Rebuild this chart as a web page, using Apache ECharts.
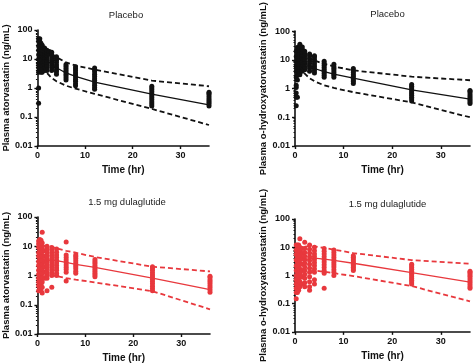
<!DOCTYPE html>
<html><head><meta charset="utf-8">
<script src="https://cdn.jsdelivr.net/npm/echarts@6/dist/echarts.min.js"></script>
<style>html,body{margin:0;padding:0;background:#fff}#c{width:474px;height:364px}</style>
</head><body><div id="c"></div>
<script>
// ---- data ----
const panelTitles = ['Placebo', 'Placebo', '1.5 mg dulaglutide', '1.5 mg dulaglutide'];
const yNames = ['Plasma atorvastatin (ng/mL)', 'Plasma o-hydroxyatorvastatin (ng/mL)', 'Plasma atorvastatin (ng/mL)', 'Plasma o-hydroxyatorvastatin (ng/mL)'];
const xTickValues = [0, 10, 20, 30];
const yMinorTicks = [0.02,0.03,0.04,0.05,0.06,0.07,0.08,0.09,0.2,0.3,0.4,0.5,0.6,0.7,0.8,0.9,2,3,4,5,6,7,8,9,20,30,40,50,60,70,80,90];

const obsTimes = [0.25, 0.5, 0.75, 1, 1.5, 2, 2.5, 3, 4, 6, 8, 12, 24, 36];

const atoPlaceboObs = [
  [0.3, 1.0, 3.5, 5, 7, 10, 14, 20, 28, 40, 50],
  [4, 5, 6.5, 8, 10, 13, 17, 22, 30, 40, 50],
  [3.5, 5, 7, 9, 12, 15, 20, 27, 35],
  [3.5, 4.5, 6, 8, 10, 13, 16, 20, 25, 30],
  [4, 5, 6.5, 8.5, 11, 14, 18, 24],
  [4, 5, 6, 7.5, 9, 11, 13.5, 16, 20],
  [15, 18],
  [4, 5, 6, 7, 8.5, 10, 12, 14, 17],
  [3, 3.6, 4.3, 5.2, 6.2, 7.5, 9, 10.5, 12],
  [1.9, 2.2, 2.6, 3, 3.5, 4.1, 4.8, 5.6, 6.5],
  [1.2, 1.4, 1.7, 2, 2.4, 2.8, 3.3, 3.9, 4.6, 5.4],
  [0.9, 1.05, 1.25, 1.5, 1.8, 2.1, 2.5, 3, 3.6, 4.3, 4.9],
  [0.24, 0.28, 0.33, 0.39, 0.46, 0.54, 0.63, 0.74, 0.87, 1.0, 1.15],
  [0.24, 0.28, 0.32, 0.37, 0.43, 0.5, 0.58, 0.66, 0.72]
];
const ohPlaceboObs = [
  [0.25, 0.5, 0.7, 1.1, 1.3, 2.5, 4, 6, 9, 13, 20],
  [0.5, 2, 3, 4.5, 6, 8, 11, 15, 20, 27],
  [3, 4, 5.5, 7, 9.5, 12.5, 16, 21, 28],
  [3, 4, 5.5, 7.5, 10, 13, 17, 22, 28, 35],
  [4, 5, 6.5, 8.5, 11, 14, 18, 23, 28],
  [4.5, 5.5, 7, 8.5, 10.5, 13, 16, 20],
  [],
  [4, 5, 6, 7.5, 9, 11, 13.5, 16],
  [3.5, 4.2, 5, 6, 7.2, 8.6, 10.3, 12.5, 14],
  [2.5, 2.9, 3.4, 4, 4.7, 5.5, 6.5, 7.6, 9],
  [2.5, 2.9, 3.3, 3.8, 4.4, 5.1, 5.9, 7],
  [1.5, 1.75, 2, 2.3, 2.7, 3.1, 3.6, 4.2, 5],
  [0.37, 0.43, 0.5, 0.58, 0.67, 0.78, 0.9, 1.05, 1.2, 1.4],
  [0.3, 0.34, 0.39, 0.45, 0.52, 0.6, 0.7, 0.8, 0.85]
];
const atoDulaObs = [
  [0.3, 0.45, 0.6, 0.8, 1.1, 1.5, 2.2, 3, 4.5, 6, 9, 12, 15],
  [0.35, 0.5, 0.7, 0.9, 1.3, 1.8, 2.5, 3.5, 5, 7, 10, 14, 17],
  [0.3, 0.5, 0.75, 1, 1.4, 2, 2.8, 4, 5.5, 8, 11, 16],
  [0.25, 0.4, 0.6, 0.85, 1.2, 1.7, 2.4, 3.3, 4.6, 6.5, 9, 13, 30],
  [0.8, 1.3, 2, 3, 4.5, 7],
  [0.3, 0.8, 1, 1.3, 1.7, 2.2, 2.8, 3.6, 4.6, 6, 7.8, 10],
  [],
  [0.4, 1, 1.2, 1.5, 1.9, 2.4, 3, 3.8, 4.8, 6, 7.5, 9],
  [1, 1.2, 1.5, 1.8, 2.2, 2.7, 3.3, 4.1, 5, 6.2, 8],
  [0.65, 1.3, 1.6, 1.9, 2.3, 2.8, 3.4, 4.1, 5, 14],
  [1.2, 1.4, 1.7, 2, 2.3, 2.7, 3.2, 3.8, 4.5, 5],
  [0.9, 1.05, 1.2, 1.4, 1.65, 1.9, 2.2, 2.6, 3, 3.5],
  [0.3, 0.36, 0.43, 0.52, 0.62, 0.74, 0.88, 1.05, 1.25, 1.5, 1.8, 2],
  [0.27, 0.32, 0.38, 0.45, 0.53, 0.62, 0.72, 0.85, 0.95]
];
const ohDulaObs = [
  [0.15, 0.25, 0.35, 0.5, 0.7, 1, 1.5, 2.2, 3.5, 5.5, 8, 12],
  [0.25, 0.35, 0.5, 0.7, 1, 1.4, 2, 3, 4.5, 6.5, 9, 12],
  [0.3, 0.45, 0.65, 0.9, 1.3, 1.9, 2.7, 4, 6, 8.5, 12],
  [0.4, 0.6, 0.85, 1.2, 1.7, 2.5, 3.5, 5, 7, 10, 20],
  [0.5, 0.9, 1.5, 2.5, 4, 6, 9],
  [0.4, 0.55, 0.8, 1.1, 1.5, 2, 2.7, 3.6, 4.8, 6.5, 9, 15],
  [],
  [0.3, 0.4, 0.6, 0.9, 1.3, 1.8, 2.5, 3.4, 4.6, 6.2, 8.5, 12],
  [0.5, 0.7, 1.3, 1.7, 2.2, 2.8, 3.6, 4.6, 5.8, 7.5, 10],
  [0.35, 1.2, 1.5, 1.9, 2.4, 3, 3.7, 4.6, 5.8, 7.2, 9],
  [1, 1.3, 1.6, 2, 2.4, 2.9, 3.5, 4.3, 5.3, 6.5, 8],
  [1.5, 1.7, 1.95, 2.2, 2.5, 2.9, 3.3, 3.8, 4.4, 5],
  [0.5, 0.58, 0.67, 0.78, 0.9, 1.05, 1.2, 1.4, 1.65, 1.9, 2.2, 2.5],
  [0.35, 0.4, 0.47, 0.55, 0.64, 0.75, 0.88, 1, 1.15, 1.3, 1.4]
];

// prediction lines (median, 95th, 5th percentile)
const atoPlaceboPredT = [0.5, 1, 1.5, 2, 3, 4, 6, 8, 12, 24, 36];
const atoPlaceboMedian = [12, 13, 11, 9, 6.5, 5.0, 3.3, 2.5, 1.6, 0.62, 0.26];
const atoPlaceboUpper  = [35, 33, 28, 22, 15, 11.5, 7.6, 6, 4.3, 1.8, 1.15];
const atoPlaceboLower  = [10, 7, 4.5, 3.3, 2.2, 1.7, 1.2, 0.95, 0.63, 0.19, 0.053];

const ohPlaceboPredT = [1, 1.5, 2, 3, 4, 6, 8, 12, 24, 36];
const ohPlaceboMedian = [9, 8.5, 7.5, 6, 5, 3.9, 3.2, 2.3, 0.9, 0.43];
const ohPlaceboUpper  = [14, 14, 13, 11, 9.5, 7.2, 5.9, 4.3, 2.6, 1.95];
const ohPlaceboLower  = [6, 4.5, 3.3, 2.3, 1.8, 1.3, 1.05, 0.75, 0.33, 0.1];

const atoDulaPredT = [1, 2, 3, 4, 6, 8, 12, 24, 36];
const atoDulaMedian = [2.6, 3.2, 3.4, 3.2, 2.8, 2.4, 1.9, 0.82, 0.33];
const atoDulaUpper  = [10, 10.5, 9.5, 8.5, 7, 6, 4.3, 2.0, 1.38];
const atoDulaLower  = [0.9, 1.0, 1.0, 0.95, 0.82, 0.72, 0.58, 0.29, 0.07];

const ohDulaPredT = [0.5, 1, 1.5, 2, 3, 4, 6, 8, 12, 24, 36];
const ohDulaMedian = [1.2, 2, 2.8, 3.5, 4, 4.1, 3.8, 3.4, 2.7, 1.25, 0.58];
const ohDulaUpper  = [null, null, null, 10.5, 11, 10.7, 9.5, 8.2, 6.2, 3.5, 2.6];
const ohDulaLower  = [null, null, null, null, 1.4, 1.5, 1.35, 1.2, 0.95, 0.42, 0.12];

// ---- chart ----
const BLACK = '#111111';
const RED = '#e8383d';
const FONT = 'Liberation Sans, Arial, sans-serif';

const panels = [
  {obs: atoPlaceboObs, t: atoPlaceboPredT, med: atoPlaceboMedian, up: atoPlaceboUpper, lo: atoPlaceboLower, color: BLACK,
   grid: {left: 33, top: 30, width: 176, height: 116}},
  {obs: ohPlaceboObs, t: ohPlaceboPredT, med: ohPlaceboMedian, up: ohPlaceboUpper, lo: ohPlaceboLower, color: BLACK,
   grid: {left: 295, top: 29, width: 175, height: 117}},
  {obs: atoDulaObs, t: atoDulaPredT, med: atoDulaMedian, up: atoDulaUpper, lo: atoDulaLower, color: RED,
   grid: {left: 34, top: 217, width: 176, height: 118}},
  {obs: ohDulaObs, t: ohDulaPredT, med: ohDulaMedian, up: ohDulaUpper, lo: ohDulaLower, color: RED,
   grid: {left: 295, top: 219, width: 175, height: 116}}
];

const grids = [], xAxes = [], yAxes = [], series = [], titles = [];
panels.forEach((p, i) => {
  grids.push(Object.assign({containLabel: false}, p.grid));
  titles.push({
    text: panelTitles[i], left: p.grid.left + p.grid.width / 2, top: p.grid.top - 25, textAlign: 'center',
    textStyle: {fontFamily: FONT, fontSize: 9.5, fontWeight: 'normal', color: '#222'}
  });
  xAxes.push({
    type: 'value', gridIndex: i, min: 0, max: 36,
    name: 'Time (hr)', nameLocation: 'middle', nameGap: 19,
    nameTextStyle: {fontFamily: FONT, fontSize: 10, fontWeight: 'bold', color: BLACK},
    axisLine: {show: true, onZero: false, lineStyle: {color: BLACK, width: 1.6}},
    axisTick: {show: true, length: 3, customValues: xTickValues, lineStyle: {color: BLACK, width: 1.4}},
    axisLabel: {customValues: xTickValues, margin: 5, fontFamily: FONT, fontSize: 9, fontWeight: 'bold', color: BLACK},
    splitLine: {show: false}
  });
  yAxes.push({
    type: 'log', logBase: 10, gridIndex: i, min: 0.01, max: 100,
    name: yNames[i], nameLocation: 'middle', nameGap: 22, nameRotate: 90,
    nameTextStyle: {fontFamily: FONT, fontSize: 9.5, fontWeight: 'bold', color: BLACK},
    axisLine: {show: true, onZero: false, lineStyle: {color: BLACK, width: 1.6}},
    axisTick: {show: true, length: 3, lineStyle: {color: BLACK, width: 1.4}},
    axisLabel: {margin: 5, fontFamily: FONT, fontSize: 9, fontWeight: 'bold', color: BLACK,
      formatter: v => String(v)},
    splitLine: {show: false}
  });
  yAxes.push({
    type: 'log', logBase: 10, gridIndex: i, min: 0.01, max: 100, position: 'left', offset: 0,
    axisLine: {show: false},
    axisTick: {show: true, length: 1.5, customValues: yMinorTicks, lineStyle: {color: BLACK, width: 1}},
    axisLabel: {show: false},
    splitLine: {show: false}
  });
  const pts = [];
  p.obs.forEach((vals, k) => vals.forEach(v => pts.push([obsTimes[k], v])));
  series.push({
    type: 'scatter', xAxisIndex: i, yAxisIndex: 2 * i, data: pts,
    symbol: 'circle', symbolSize: 5, itemStyle: {color: p.color, opacity: 1}, silent: true, z: 2
  });
  const mk = (arr) => p.t.map((t, k) => [t, arr[k]]).filter(d => d[1] != null);
  series.push({
    type: 'line', xAxisIndex: i, yAxisIndex: 2 * i, data: mk(p.med), showSymbol: false, symbol: 'none',
    smooth: false, lineStyle: {color: p.color, width: 1.3, type: 'solid'}, silent: true, z: 3
  });
  series.push({
    type: 'line', xAxisIndex: i, yAxisIndex: 2 * i, data: mk(p.up), showSymbol: false, symbol: 'none',
    smooth: false, lineStyle: {color: p.color, width: 1.8, type: [5, 3]}, silent: true, z: 3
  });
  series.push({
    type: 'line', xAxisIndex: i, yAxisIndex: 2 * i, data: mk(p.lo), showSymbol: false, symbol: 'none',
    smooth: false, lineStyle: {color: p.color, width: 1.8, type: [5, 3]}, silent: true, z: 3
  });
});

const chart = echarts.init(document.getElementById('c'), null, {renderer: 'canvas'});
chart.setOption({
  animation: false,
  backgroundColor: '#ffffff',
  title: titles,
  grid: grids,
  xAxis: xAxes,
  yAxis: yAxes,
  series: series
});
</script>
</body></html>
